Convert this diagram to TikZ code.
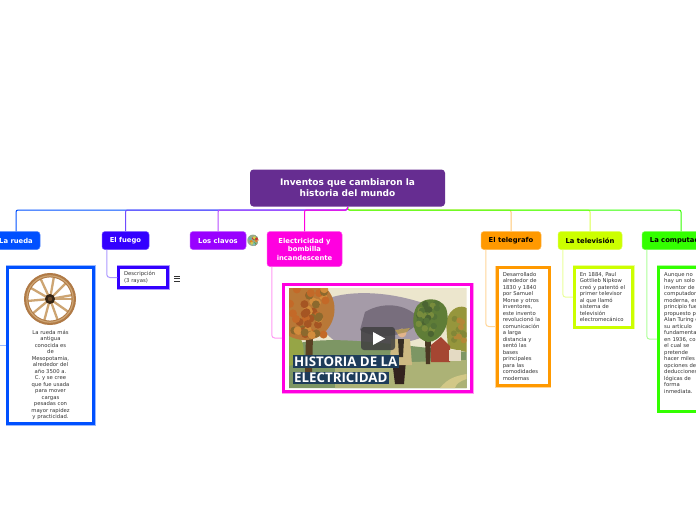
\documentclass[tikz,border=0pt]{standalone}
\usepackage{fontspec}
\setmainfont{DejaVu Sans}
\newfontfamily\thumbfont{Open Sans}
\definecolor{rootc}{HTML}{662D91}
\definecolor{cblue}{HTML}{0050FF}
\definecolor{cindigo}{HTML}{3300FF}
\definecolor{cviolet}{HTML}{9900FF}
\definecolor{cmag}{HTML}{FF00E0}
\definecolor{corange}{HTML}{FF9900}
\definecolor{clime}{HTML}{CCFF00}
\definecolor{cgreen}{HTML}{33FF00}
\definecolor{wood}{RGB}{176,122,70}
\definecolor{woodlight}{RGB}{205,165,115}
\tikzset{
  rootbox/.style={fill=rootc,rounded corners=3.5pt,text=white,align=center,inner sep=0pt,minimum width=195pt,minimum height=37pt,font=\bfseries\fontsize{9}{11}\selectfont},
  topic/.style={fill=#1,draw=#1!70!white,line width=.5pt,rounded corners=3pt,align=center,inner sep=0pt,minimum height=18pt,font=\bfseries\fontsize{6.8}{8.5}\selectfont},
  card/.style={preaction={draw=#1!40!white,line width=4pt},draw=#1,line width=3pt,fill=white,inner ysep=0pt,inner xsep=5.3pt,font=\fontsize{5.3}{6.5}\selectfont,text=black!80},
  cardtext/.style={font=\fontsize{5.3}{6.5}\selectfont,text=black!80,inner sep=0pt},
  bus/.style={draw=#1,line width=1pt,rounded corners=2pt},
  sub/.style={draw=#1!40!white,line width=1pt,rounded corners=3pt},
}
\begin{document}
\begin{tikzpicture}[x=1pt,y=-1pt]
\useasboundingbox (0,0) rectangle (696,520);
\clip (0,0) rectangle (696,520);
\fill[white] (0,0) rectangle (696,520);
\coordinate (busy) at (347,210);
\node[rootbox] (root) at (347.5,188) {Inventos que cambiaron la\\historia del mundo};
\node[topic=cblue,text=white,minimum width=48pt] (t1) at (16,240.5) {La rueda};
\node[topic=cindigo,text=white,minimum width=47pt] (t2) at (125.5,240.5) {El fuego};
\node[topic=cviolet,text=white,minimum width=56pt] (t3) at (218,240.5) {Los clavos};
\node[topic=cmag,text=white,minimum width=75pt,minimum height=35pt] (t4) at (304.5,249) {Electricidad y\\bombilla\\incandescente};
\node[topic=corange,text=black,minimum width=60pt] (t5) at (511,240.5) {El telegrafo};
\node[topic=clime,text=black,minimum width=64pt] (t6) at (590,240.5) {La televisión};
\node[topic=cgreen,text=black,minimum width=78pt] (t7) at (681,240.5) {La computadora};
% bus
\draw[bus=corange!55!white] (root.south) -- (root.south |- busy) -| (t5.north);
\draw[bus=clime!70!white] (root.south) -- (root.south |- busy) -| (t6.north);
\draw[bus=cgreen] (root.south) -- (root.south |- busy) -| (t7.north);
\draw[bus=cblue] (root.south) -- (root.south |- busy) -| (t1.north);
\draw[bus=cindigo!70!white] (root.south) -- (root.south |- busy) -| (t2.north);
\draw[bus=cviolet!70!white] (root.south) -- (root.south |- busy) -| (t3.north);
\draw[bus=cmag] (root.south) -- (root.south |- busy) -| (t4.north);
% cards
\node[card=cblue,minimum width=86pt,minimum height=156.6pt] (c1) at (50.5,345.5) {};
\node[cardtext,align=center,anchor=north] at (50.5,330) {La rueda más\\antigua\\conocida es\\de\\Mesopotamia,\\alrededor del\\año 3500 a.\\C. y se cree\\que fue usada\\para mover\\cargas\\pesadas con\\mayor rapidez\\y practicidad.};
\node[card=cindigo,minimum width=49pt,minimum height=20.6pt,text width=38.4pt,align=left] (c2) at (143.3,277.5) {Descripción\\(3 rayas)};
\node[card=cmag,minimum width=188pt,minimum height=107pt] (c4) at (377.5,338) {};
\node[card=corange,minimum width=51.7pt,minimum height=118pt,text width=41.1pt,align=left] (c5) at (523.3,326.5) {Desarrollado\\alrededor de\\1830 y 1840\\por Samuel\\Morse y otros\\inventores,\\este invento\\revolucionó la\\comunicación\\a larga\\distancia y\\sentó las\\bases\\principales\\para las\\comodidades\\modernas};
\node[card=clime,minimum width=58.3pt,minimum height=60pt,text width=47.7pt,align=left] (c6) at (603.7,297.2) {En 1884, Paul\\Gottlieb Nipkow\\creó y patentó el\\primer televisor\\al que llamó\\sistema de\\televisión\\electromecánico};
\node[card=cgreen,minimum width=80pt,minimum height=144pt] (c7) at (698.5,339.2) {};
\node[cardtext,align=left,anchor=north west] at (664,272) {Aunque no\\hay un solo\\inventor de la\\computadora\\moderna, en\\principio fue\\propuesto por\\Alan Turing en\\su artículo\\fundamental\\en 1936, con\\el cual se\\pretende\\hacer miles de\\opciones de\\deducciones\\lógicas de\\forma\\inmediata.};
% sub connectors
\coordinate (s1) at (0,345.5);
\draw[sub=cblue] (s1) -- (c1.west);
\draw[sub=cindigo] ([xshift=5pt]t2.south west) |- (c2.west);
\draw[sub=cmag] ([xshift=5pt]t4.south west) |- (c4.west);
\draw[sub=corange] ([xshift=5pt]t5.south west) |- (c5.west);
\draw[sub=clime] ([xshift=5pt]t6.south west) |- (c6.west);
\draw[sub=cgreen] ([xshift=5pt]t7.south west) |- (c7.west);
% wheel
\begin{scope}[shift={(50,299)}]
  \foreach \a in {10,45,...,370} {\draw[line width=2.3pt,woodlight] (0,0) -- (\a:23pt);}
  \draw[line width=4.4pt,wood] (0,0) circle (23.8pt);
  \draw[line width=1.2pt,woodlight] (0,0) circle (23.2pt);
  \fill[black!70!wood] (0,0) circle (5pt);
  \fill[black!40!wood] (0,0) circle (2.2pt);
\end{scope}
% menu icon
\foreach \yy in {276,278.7,281.3} {\draw[black!80,line width=.8pt] (174,\yy) -- (180,\yy);}
% sticker on clavos
\begin{scope}
  \clip (253,240.3) circle (5.7pt);
  \fill[color={rgb,255:red,150;green,170;blue,140}] (253,240.3) circle (5.7pt);
  \pgfmathsetseed{11}
  \foreach \c in {orange!70!brown,green!50!black!70,red!60!gray,yellow!70!gray,teal!60,orange!70!brown,red!50!gray,green!40!gray,brown!70,yellow!60!gray,teal!50,red!60!gray} {
    \pgfmathsetmacro{\px}{253+5*rand}\pgfmathsetmacro{\py}{240.3+5*rand}
    \fill[\c] (\px,\py) circle (1.6pt);
  }
\end{scope}
% video thumbnail
\begin{scope}
  \clip (289,288) rectangle (466.5,388);
  \fill[color={rgb,255:red,236;green,230;blue,205}] (289,288) rectangle (466.5,388);
  \fill[color={rgb,255:red,165;green,155;blue,168}] (320,302) .. controls (345,288) and (400,290) .. (445,312) .. controls (450,335) and (400,350) .. (345,345) .. controls (325,340) and (315,320) .. (320,302) -- cycle;
  \fill[color={rgb,255:red,120;green,110;blue,125}] (365,312) .. controls (385,300) and (410,305) .. (420,320) .. controls (410,338) and (375,340) .. (360,330) -- cycle;
  \fill[color={rgb,255:red,125;green,150;blue,100}] (289,345) .. controls (330,335) and (370,342) .. (466.5,352) -- (466.5,388) -- (289,388) -- cycle;
  \fill[color={rgb,255:red,172;green,178;blue,118}] (335,365) -- (466.5,360) -- (466.5,388) -- (335,388) -- cycle;
  \fill[color={rgb,255:red,210;green,200;blue,135}] (440,388) .. controls (448,378) and (456,376) .. (466.5,374) -- (466.5,379) .. controls (460,381) and (456,384) .. (455,388) -- cycle;
  % left tree
  \fill[color={rgb,255:red,90;green,65;blue,35}] (306,335) -- (313,335) -- (312,374) -- (305,374) -- cycle;
  \fill[color={rgb,255:red,150;green,165;blue,70}] (289,330) .. controls (300,330) and (306,345) .. (303,362) -- (289,366) -- cycle;
  \fill[color={rgb,255:red,185;green,120;blue,55}] (289,288) -- (326,288) .. controls (338,300) and (337,320) .. (325,332) .. controls (315,342) and (300,342) .. (289,336) -- cycle;
  \pgfmathsetseed{7}
  \foreach \i in {1,...,45} {
    \pgfmathsetmacro{\px}{309+20*rand}\pgfmathsetmacro{\py}{312+23*rand}
    \pgfmathtruncatemacro{\k}{int(mod(\i,4))}
    \ifcase\k\def\lc{rgb,255:red,195;green,105;blue,40}\or\def\lc{rgb,255:red,140;green,105;blue,45}\or\def\lc{rgb,255:red,210;green,140;blue,60}\else\def\lc{rgb,255:red,165;green,85;blue,35}\fi
    \fill[color={\lc}] (\px,\py) circle (4pt);
  }
  % right trees
  \fill[color={rgb,255:red,75;green,55;blue,35}] (425,340) -- (431,340) -- (430,364) -- (426,364) -- cycle;
  \fill[color={rgb,255:red,150;green,150;blue,60}] (446,322) .. controls (450,306) and (462,305) .. (466.5,308) -- (466.5,352) -- (448,348) -- cycle;
  \fill[color={rgb,255:red,95;green,125;blue,55}] (415,310) .. controls (420,296) and (440,296) .. (446,308) .. controls (452,325) and (440,342) .. (428,342) .. controls (416,340) and (410,325) .. (415,310) -- cycle;
  \foreach \i in {1,...,25} {
    \pgfmathsetmacro{\px}{430+12*rand}\pgfmathsetmacro{\py}{319+16*rand}
    \pgfmathtruncatemacro{\k}{int(mod(\i,3))}
    \ifcase\k\def\lc{rgb,255:red,85;green,115;blue,55}\or\def\lc{rgb,255:red,120;green,140;blue,60}\else\def\lc{rgb,255:red,75;green,100;blue,50}\fi
    \fill[color={\lc}] (\px,\py) circle (3.2pt);
  }
  \foreach \i in {1,...,12} {
    \pgfmathsetmacro{\px}{458+7*rand}\pgfmathsetmacro{\py}{328+14*rand}
    \pgfmathtruncatemacro{\k}{int(mod(\i,2))}
    \ifcase\k\def\lc{rgb,255:red,180;green,135;blue,55}\else\def\lc{rgb,255:red,130;green,135;blue,55}\fi
    \fill[color={\lc}] (\px,\py) circle (3pt);
  }
  % house
  \fill[color={rgb,255:red,165;green,70;blue,50}] (431,345) -- (441,337) -- (450,346) -- (450,362) -- (431,362) -- cycle;
  \fill[color={rgb,255:red,228;green,218;blue,195}] (449,350) -- (461,350) -- (461,361) -- (449,361) -- cycle;
  % man
  \fill[color={rgb,255:red,50;green,35;blue,30}] (392,360) -- (406,360) -- (404,384) -- (395,384) -- cycle;
  \fill[color={rgb,255:red,205;green,185;blue,130}] (391,339) -- (410,339) -- (412,365) -- (390,365) -- cycle;
  \fill[color={rgb,255:red,55;green,45;blue,35}] (398,339) -- (404,339) -- (403,357) -- (399,357) -- cycle;
  \fill[color={rgb,255:red,225;green,180;blue,140}] (402,333) circle (4.5pt);
  \fill[color={rgb,255:red,175;green,150;blue,90}] (395,330) -- (410,328) -- (407,332) -- (398,334) -- cycle;
  % play button
  \fill[black!75,opacity=.85,rounded corners=3pt] (361,327) rectangle (395,350);
  \fill[white] (373,332) -- (385,338.5) -- (373,345) -- cycle;
  % caption
  \fill[color={rgb,255:red,30;green,60;blue,90}] (293,355) rectangle (399,367.5);
  \fill[color={rgb,255:red,30;green,60;blue,90}] (293,371.5) rectangle (389,383.5);
\end{scope}
\node[anchor=base west,inner sep=0pt,text=white,font=\thumbfont\bfseries\fontsize{13.3}{15}\selectfont] (cap1) at (294,366) {HISTORIA DE LA};
\node[anchor=base west,inner sep=0pt,text=white,font=\thumbfont\bfseries\fontsize{13.3}{15}\selectfont] (cap2) at (294,382.5) {ELECTRICIDAD};
\end{tikzpicture}
\end{document}
